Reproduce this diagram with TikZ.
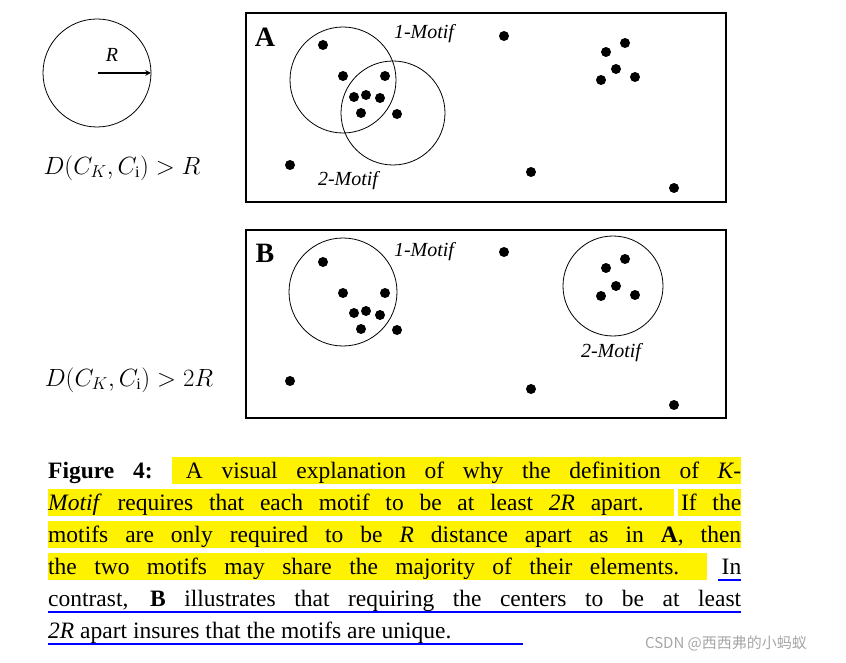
\documentclass[tikz,border=0pt]{standalone}
\usepackage{fontspec}
\setmainfont{Liberation Serif}
\newfontfamily\cjk{Noto Sans CJK SC}
\begin{document}
\begin{tikzpicture}[x=1pt,y=-1pt,
  dot/.style={circle,fill=black,inner sep=0pt,minimum size=10pt},
  frame/.style={draw,line width=1.6pt},
  lbl/.style={font=\fontsize{20}{22}\selectfont\itshape},
  capline/.style={anchor=base west,inner sep=0pt,font=\fontsize{23.5}{28}\selectfont},
  hl/.style={fill=yellow},
  ul/.style={draw=blue,line width=1.8pt}]
\useasboundingbox (0,0) rectangle (846,663);
% left
\draw[line width=0.8pt] (97,73) circle (54);
\coordinate (c0) at (98,73);
\coordinate (c1) at (151,73);
\draw[-stealth,line width=1.5pt] (c0) -- (c1);
\node[lbl] (r) at (112,55) {R};
\node[font=\fontsize{23}{26}\selectfont] (f1) at (122,168) {$D(C_{K}, C_{\mathrm{i}}) > R$};
\node[font=\fontsize{23}{26}\selectfont] (f2) at (129,380) {$D(C_{K}, C_{\mathrm{i}}) > 2R$};
% box A
\draw[frame] (246,13) rectangle (726,202);
\node[font=\fontsize{28}{30}\selectfont\bfseries] (la) at (265,37) {A};
\draw[line width=0.8pt] (343,80) circle (53);
\draw[line width=0.8pt] (393,113) circle (52);
\node[lbl] (m1a) at (424,34) {1-Motif};
\node[lbl] (m2a) at (348,181) {2-Motif};
\foreach \p [count=\i] in {(323,45),(343,76),(385,76),(366,95),(354,97),(380,98),(361,113),(397,114),(290,165),(504,36),(531,172),(606,52),(625,43),(616,69),(601,80),(635,77),(674,188)}
  \node[dot] (a\i) at \p {};
% box B
\draw[frame] (246,230) rectangle (726,418);
\node[font=\fontsize{28}{30}\selectfont\bfseries] (lb) at (265,253) {B};
\draw[line width=0.8pt] (343,292) circle (54);
\draw[line width=0.8pt] (613,286) circle (50);
\node[lbl] (m1b) at (424,252) {1-Motif};
\node[lbl] (m2b) at (611,353) {2-Motif};
\foreach \p [count=\i] in {(323,262),(343,293),(385,293),(366,311),(354,313),(380,315),(361,329),(397,330),(290,381),(504,252),(531,389),(606,268),(625,259),(616,286),(601,296),(635,295),(674,405)}
  \node[dot] (b\i) at \p {};
% highlights
\fill[hl] (172,457) rectangle (741,484);
\fill[hl] (48,489) rectangle (674,516);
\fill[hl] (678,489) rectangle (741,516);
\fill[hl] (48,521) rectangle (741,548);
\fill[hl] (48,553) rectangle (707,580);
\draw[ul] (718,580) -- (741,580);
\draw[ul] (48,612) -- (741,612);
\draw[ul] (48,644) -- (523,644);
% caption
\node[capline] (l1) at (48,478) {\makebox[693pt][s]{\textbf{Figure 4:} A visual explanation of why the definition of \textit{K-}}};
\node[capline] (l2) at (48,510) {\makebox[693pt][s]{\textit{Motif} requires that each motif to be at least \textit{2R} apart. If the}};
\node[capline] (l3) at (48,542) {\makebox[693pt][s]{motifs are only required to be \textit{R} distance apart as in \textbf{A}, then}};
\node[capline] (l4) at (48,574) {\makebox[693pt][s]{the two motifs may share the majority of their elements. In}};
\node[capline] (l5) at (48,606) {\makebox[693pt][s]{contrast, \textbf{B} illustrates that requiring the centers to be at least}};
\node[capline] (l6) at (48,638) {\textit{2R} apart insures that the motifs are unique.};
\node[font=\fontsize{15}{16}\selectfont\cjk,text=gray!70] (wm) at (726,643) {CSDN @西西弗的小蚂蚁};
\end{tikzpicture}
\end{document}
